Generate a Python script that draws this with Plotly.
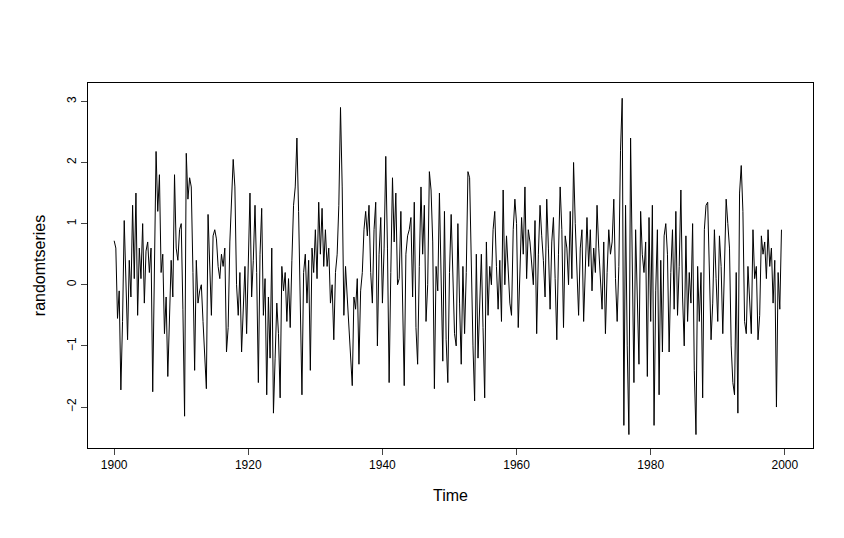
import plotly.graph_objects as go

start_year = 1900
freq = 4

d1900 = [0.72, 0.6, -0.55, -0.1, -1.72, -0.6, 1.05, 0.2, -0.9, 0.4, -0.2, 1.3, 0.1, 1.5, -0.5, 0.6, 0.1, 1.0, -0.3, 0.55,
         0.7, 0.2, 0.6, -1.75, 0.0, 2.18, 1.2, 1.8, 0.2, 0.5, -0.8, -0.2, -1.5, -0.6, 0.4, -0.2, 1.8, 0.6, 0.4, 0.9]
d1910 = [1.0, -0.4, -2.15, 2.15, 1.4, 1.75, 1.6, 0.2, -1.4, 0.4, -0.3, -0.1, 0.0, -0.6, -1.2, -1.7, 1.15, 0.4, -0.5, 0.8,
         0.9, 0.75, 0.3, 0.1, 0.5, 0.3, 0.6, -1.1, -0.7, 0.7, 1.5, 2.05, 1.6, 0.0, -0.5, 0.2, -1.1, -0.4, 0.3, -0.8]
d1920 = [0.5, 1.5, -0.2, 0.4, 1.3, 0.2, -1.6, 0.5, 1.25, -0.5, 0.1, -1.8, -0.2, -1.2, 0.6, -2.1, -1.2, -0.3, -0.8, -1.85,
         0.3, -0.1, 0.2, -0.6, 0.1, -0.7, 0.4, 1.3, 1.6, 2.4, 1.2, -0.6, -1.8, 0.2, 0.5, -0.3, 0.4, -1.4, 0.6, 0.2]
d1930 = [0.9, 0.1, 1.35, 0.5, 1.25, 0.3, 0.9, 0.3, 0.6, -0.3, 0.0, -0.9, 0.2, 0.5, 1.3, 2.9, 1.6, -0.5, 0.3, -0.2,
         -0.7, -1.15, -1.65, -0.2, -0.4, 0.1, -1.3, -0.1, 0.2, 0.9, 1.2, 0.8, 1.3, 0.2, -0.3, 0.9, 1.35, -1.0, 0.5, 1.1]
d1940 = [-0.3, 0.6, 2.1, 0.6, -1.6, 0.2, 1.75, 0.7, 1.5, 0.0, 0.1, 1.2, -0.3, -1.65, 0.5, 0.8, 0.9, 1.1, -0.2, 1.35,
         -0.7, -1.3, 0.3, 1.6, 0.5, 1.3, -0.6, 0.0, 1.85, 1.55, 0.7, -1.7, 0.3, -0.1, 1.5, -0.2, -1.25, 1.2, -0.9, -1.6]
d1950 = [0.2, 1.15, 0.2, -0.8, -1.0, 1.0, -0.3, -1.3, 0.3, -0.8, 0.2, 1.85, 1.75, 0.3, -1.0, -1.9, 0.5, -1.2, -0.4, 0.5,
         -0.7, -1.85, 0.7, -0.5, 0.3, 0.0, 0.9, 1.2, 0.3, -0.4, 0.4, -0.6, 1.55, 0.0, 0.8, 0.3, -0.3, -0.5, 0.9, 1.4]
d1960 = [1.0, -0.7, 0.2, 1.1, 0.5, 1.6, 0.1, 0.9, 0.7, 0.3, 0.0, 1.05, -0.8, 0.5, 1.3, 0.8, 0.4, -0.2, 1.4, 0.6,
         -0.4, 0.7, 1.1, 0.1, -0.9, 0.5, 1.6, 0.9, -0.7, 0.8, 0.6, 0.0, 1.2, 0.1, 2.0, 1.0, 0.2, -0.5, 0.6, 0.9]
d1970 = [-0.6, 0.4, 1.1, 0.3, 0.9, -0.1, 0.6, 0.2, 1.3, 0.6, 0.1, -0.4, 0.7, -0.8, 0.2, 0.9, 0.5, 0.7, 1.4, 0.1,
         -0.6, 0.3, 2.2, 3.05, -2.3, 1.3, -1.0, -2.45, 2.4, 0.5, -1.6, 0.9, -0.2, -1.3, 1.2, 0.5, 0.2, 0.7, -1.5, 1.1]
d1980 = [-0.6, 1.3, -2.3, -0.1, 0.9, -1.8, 0.4, -1.1, 0.8, 1.0, 0.5, -1.1, 0.2, 0.9, -0.4, 1.2, -0.5, 0.3, 1.55, -0.2,
         -1.0, 0.8, -0.6, 0.2, -0.3, 1.0, -1.4, -2.45, 0.3, -0.6, 0.2, -1.85, 0.9, 1.3, 1.35, 0.4, -0.9, -0.3, 0.9, 0.1]
d1990 = [-0.6, 0.8, 0.3, -0.8, 0.6, 1.4, 1.0, 0.6, -1.0, -1.6, -1.8, 0.2, -2.1, 1.5, 1.95, 1.2, -0.6, -0.8, 0.3, -0.3,
         -0.8, 0.9, 0.1, 0.3, -0.9, -0.5, 0.8, 0.5, 0.7, 0.1, 0.9, 0.3, 0.6, -0.3, 0.4, -2.0, 0.2, -0.4, 0.9]

values = d1900 + d1910 + d1920 + d1930 + d1940 + d1950 + d1960 + d1970 + d1980 + d1990
times = [start_year + i / freq for i in range(len(values))]

fig = go.Figure()
fig.add_trace(go.Scatter(x=times, y=values, mode="lines", line=dict(color="black", width=1), showlegend=False))

fig.update_layout(
    width=844, height=538,
    margin=dict(l=80, r=39, t=75, b=98),
    plot_bgcolor="white", paper_bgcolor="white",
    font=dict(family="Liberation Sans, Arial", size=13, color="black"),
)
fig.update_xaxes(
    title_text="Time", range=[1896.1, 2004.2], tickvals=[1900, 1920, 1940, 1960, 1980, 2000],
    tickfont=dict(size=12), title_standoff=18,
    showgrid=False, zeroline=False, mirror=True, showline=True, linecolor="black", linewidth=1,
    ticks="outside", ticklen=6,
)
fig.update_yaxes(
    title_text="randomtseries", range=[-2.67, 3.3], tickvals=[-2, -1, 0, 1, 2, 3], tickangle=-90,
    tickfont=dict(size=12),
    showgrid=False, zeroline=False, mirror=True, showline=True, linecolor="black", linewidth=1,
    ticks="outside", ticklen=6,
)

fig.write_html("out.html")
